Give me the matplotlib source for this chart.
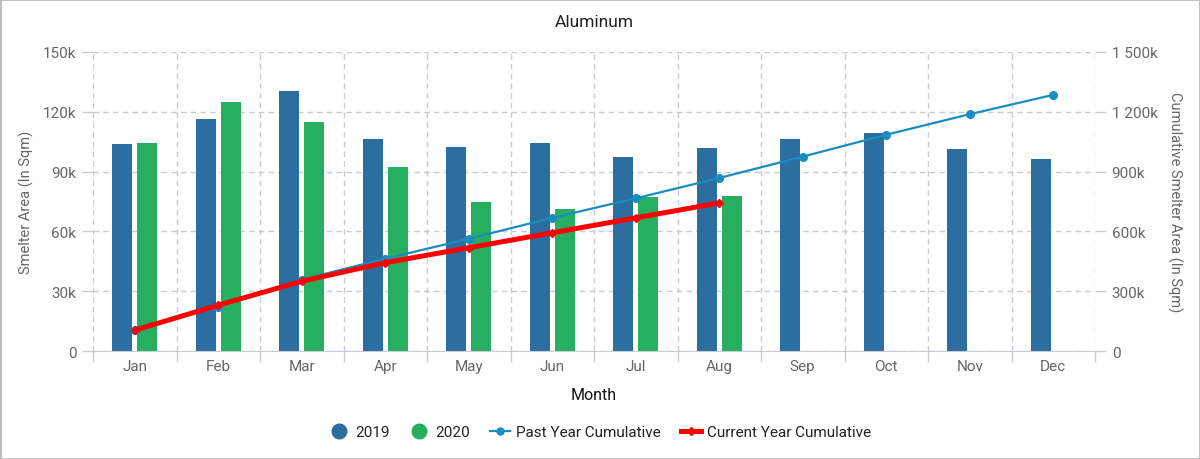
import matplotlib
matplotlib.use("Agg")
import matplotlib.pyplot as plt
from matplotlib.lines import Line2D
import numpy as np

plt.rcParams['font.family'] = ['Roboto', 'DejaVu Sans']

months = ["Jan", "Feb", "Mar", "Apr", "May", "Jun", "Jul", "Aug", "Sep", "Oct", "Nov", "Dec"]
area_2019 = [104.0, 116.3, 130.5, 106.2, 102.5, 104.5, 97.3, 102.0, 106.5, 109.5, 101.5, 96.3]  # k sqm
area_2020 = [104.5, 125.0, 114.7, 92.4, 75.0, 71.3, 77.5, 78.0]  # k sqm
past_cum = [104, 222, 358, 463, 563, 668, 766, 868, 975, 1085, 1188, 1285]  # k sqm
curr_cum = [104.5, 230, 350, 443, 518, 593, 668, 743]  # k sqm
left_ticks = [0, 30, 60, 90, 120, 150]
left_labels = ["0", "30k", "60k", "90k", "120k", "150k"]
right_ticks = [0, 300, 600, 900, 1200, 1500]
right_labels = ["0", "300k", "600k", "900k", "1 200k", "1 500k"]

C19 = "#2B6E9F"
C20 = "#27AE60"
CPAST = "#1B8CC0"
CCUR = "#FF0000"
GRID = "#C8CCD2"
TXT = "#666666"

fig = plt.figure(figsize=(12, 4.6), dpi=100)
ax = fig.add_axes([93/1200, 1-352/460, (1095-93)/1200, (352-53)/460])
x = np.arange(len(months))
w = 0.24
off = 0.147
ax.bar(x - off, area_2019, width=w, color=C19, zorder=2)
ax.bar(np.arange(len(area_2020)) + off, area_2020, width=w, color=C20, zorder=2)

ax.set_xlim(-0.5, 11.5)
ax.set_ylim(0, 150)
ax.set_yticks(left_ticks)
ax.set_yticklabels(left_labels)
ax.set_xticks(x)
ax.set_xticklabels(months)
ax.set_xticks(np.arange(-0.5, 12, 1), minor=True)
ax.tick_params(axis='x', which='major', length=0, pad=6, labelsize=11, labelcolor=TXT)
ax.tick_params(axis='x', which='minor', length=8, color=GRID, width=1)
ax.tick_params(axis='y', length=8, color=GRID, width=1, labelsize=11, labelcolor=TXT, pad=4)
ax.grid(axis='y', which='major', linestyle=(0, (4, 3)), color=GRID, linewidth=1, zorder=0)
ax.grid(axis='x', which='minor', linestyle=(0, (4, 3)), color=GRID, linewidth=1, zorder=0)
for s in ['top', 'left', 'right']:
    ax.spines[s].set_visible(False)
ax.spines['bottom'].set_color(GRID)
ax.set_axisbelow(True)
ax.set_ylabel("Smelter Area (In Sqm)", fontsize=10.5, color=TXT, labelpad=6)
ax.set_xlabel("Month", fontsize=11.5, color="#111111", labelpad=10)
ax.set_title("Aluminum", fontsize=12.5, color="#222222", pad=19)

ax2 = ax.twinx()
ax2.set_ylim(0, 1500)
ax2.set_yticks(right_ticks)
ax2.set_yticklabels(right_labels)
ax2.tick_params(axis='y', length=8, color=GRID, width=1, labelsize=11, labelcolor=TXT, pad=4)
for s in ['top', 'left', 'right', 'bottom']:
    ax2.spines[s].set_visible(False)
ax2.plot(x, past_cum, color=CPAST, linewidth=1.6, marker='o', markersize=5.5, zorder=3)
ax2.plot(np.arange(len(curr_cum)), curr_cum, color=CCUR, linewidth=3.6, marker='D',
         markersize=4, zorder=4)
ax2.set_ylabel("Cumulative Smelter Area (In Sqm)", fontsize=10.5, color=TXT, rotation=270,
               labelpad=18)

handles = [
    Line2D([], [], linestyle='none', marker='o', markersize=10.5, color=C19),
    Line2D([], [], linestyle='none', marker='o', markersize=10.5, color=C20),
    Line2D([], [], color=CPAST, linewidth=1.6, marker='o', markersize=5),
    Line2D([], [], color=CCUR, linewidth=3.6, marker='D', markersize=4),
]
labels = ["2019", "2020", "Past Year Cumulative", "Current Year Cumulative"]
fig.legend(handles, labels, loc='center', bbox_to_anchor=(0.5, 1-433/460), ncol=4,
           frameon=False, fontsize=11, handlelength=1.3, handletextpad=0.4,
           columnspacing=1.3, labelcolor="#222222")

border = plt.Rectangle((0, 0), 1, 1, transform=fig.transFigure, fill=False,
                       edgecolor="#BBBBBB", linewidth=2)
fig.patches.append(border)

fig.savefig("out.png", dpi=100)
